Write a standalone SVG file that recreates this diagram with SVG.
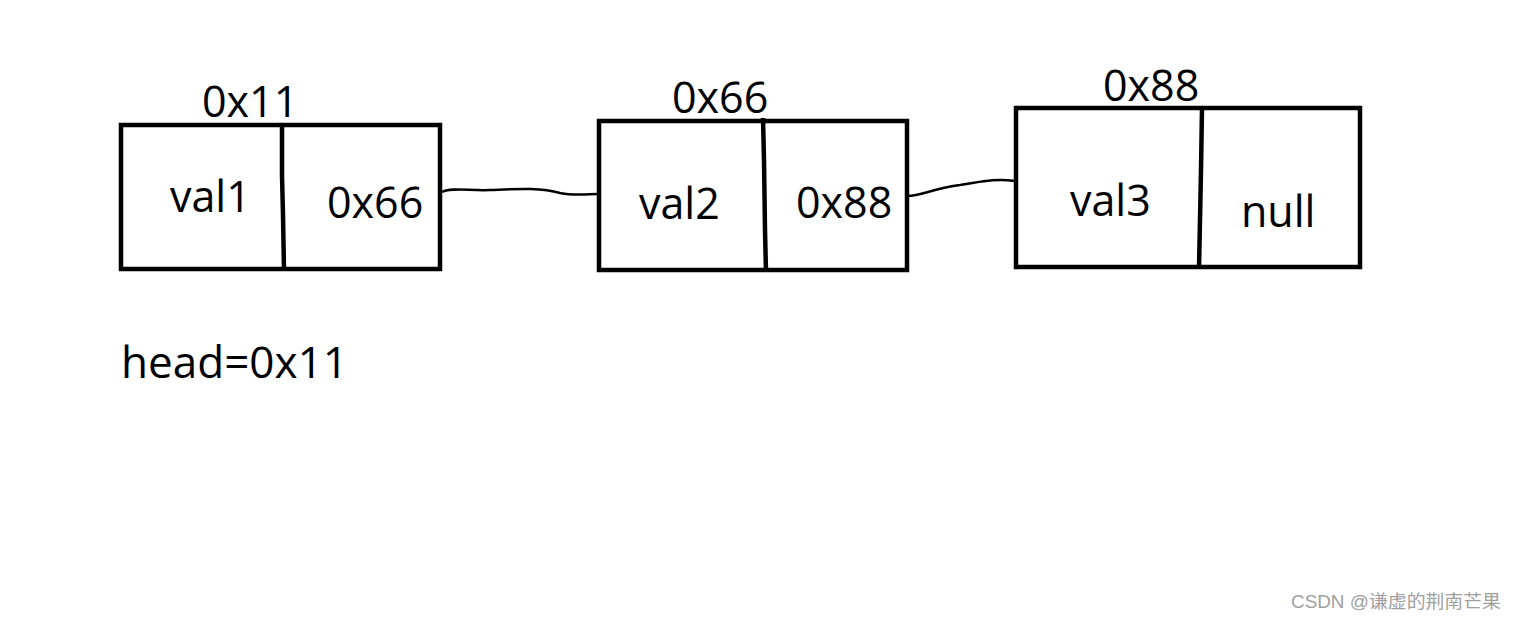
<svg xmlns="http://www.w3.org/2000/svg" width="1517" height="620" viewBox="0 0 1517 620">
<style>
.box{fill:none;stroke:#000;stroke-width:4.5}
.div{stroke:#000;stroke-width:4.5;fill:none}
.t{font-family:"Open Sans","Noto Sans","DejaVu Sans",sans-serif;font-size:43px;fill:#000}
.c{fill:none;stroke:#000;stroke-width:2.5}
.wm{font-family:"Liberation Sans","Noto Sans CJK SC",sans-serif;font-size:18px;fill:#a0a0a0}
</style>
<rect width="1517" height="620" fill="#fff"/>
<g id="node1">
<rect class="box" x="121" y="125" width="319" height="144"/>
<path class="div" d="M282 123 L282 175 L283 215 L284 270"/>
<text class="t" x="202" y="117">0x11</text>
<text class="t" x="170" y="212">val1</text>
<text class="t" x="327" y="218">0x66</text>
</g>
<g id="node2">
<rect class="box" x="599" y="121" width="308" height="149"/>
<path class="div" d="M763 118 L764 160 L765 230 L766 272"/>
<text class="t" x="672" y="113">0x66</text>
<text class="t" x="639" y="219">val2</text>
<text class="t" x="796" y="218">0x88</text>
</g>
<g id="node3">
<rect class="box" x="1016" y="108" width="344" height="159"/>
<path class="div" d="M1202 108 L1201 170 L1199 269"/>
<text class="t" x="1103" y="101">0x88</text>
<text class="t" x="1070" y="216">val3</text>
<text class="t" x="1241" y="227">null</text>
</g>
<g id="head">
<text class="t" x="121" y="378" textLength="227" lengthAdjust="spacingAndGlyphs">head=0x11</text>
</g>
<g id="connectors">
<path class="c" d="M442 192 C452 187 470 191 490 190 C515 189 540 187 560 193 C575 196 588 194 598 194"/>
<path class="c" d="M908 196 C920 196 935 188 960 185 C980 182 995 178 1015 181"/>
</g>
<text class="wm" x="1291" y="608" textLength="210" lengthAdjust="spacingAndGlyphs">CSDN @谦虚的荆南芒果</text>
</svg>
